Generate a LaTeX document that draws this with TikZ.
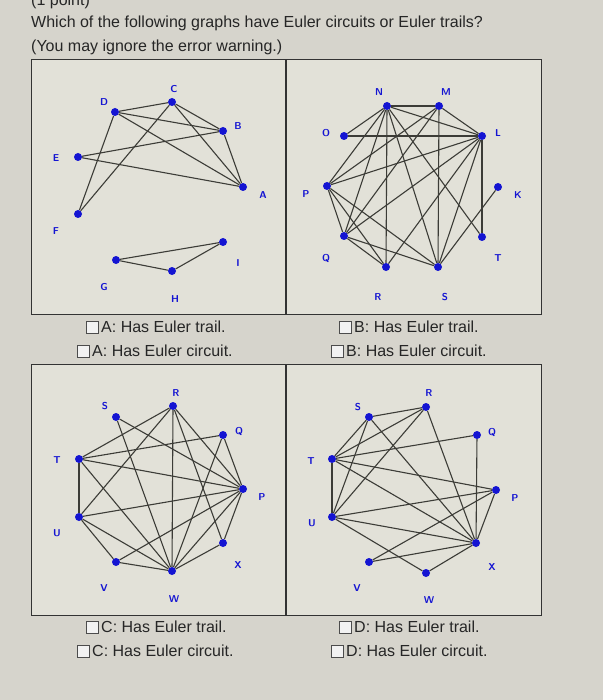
\documentclass[tikz,border=0pt]{standalone}
\usepackage{fontspec}
\setmainfont{Liberation Sans}
\definecolor{bg}{RGB}{214,212,204}
\definecolor{pan}{RGB}{226,225,216}
\definecolor{nb}{RGB}{20,20,210}
\definecolor{ed}{RGB}{60,60,55}
\begin{document}
\begin{tikzpicture}[x=1pt,y=-1pt,
  dot/.style={circle,fill=nb,inner sep=0pt,minimum size=8pt},
  lab/.style={text=nb,font=\sffamily\bfseries\fontsize{10}{10}\selectfont,inner sep=0pt},
  edge/.style={draw=ed,line width=1.1pt},
  frame/.style={draw=black!80,line width=1pt,fill=pan},
  txt/.style={font=\fontsize{16}{18}\selectfont,anchor=west,inner sep=0pt,text=black!85},
  cb/.style={draw=black!70,fill=white!90!gray,minimum size=12pt,inner sep=0pt}]
\useasboundingbox (0,0) rectangle (603,700);
\fill[bg] (0,0) rectangle (603,700);
\begin{scope}
\clip (0,0) rectangle (603,700);
\node[txt] (t0) at (31,1) {(1 point)};
\end{scope}
\node[txt] (t1) at (31,23) {Which of the following graphs have Euler circuits or Euler trails?};
\node[txt] (t2) at (31,47) {(You may ignore the error warning.)};
\draw[frame] (31,60) rectangle (541,314);
\draw[frame] (31,364) rectangle (541,615);
\draw[black!80,line width=1.2pt] (286,60) -- (286,314);
\draw[black!80,line width=1.2pt] (286,364) -- (286,615);
% checkboxes
\node[cb] (b1) at (92,327) {}; \node[txt] (l1) at (101,327) {A: Has Euler trail.};
\node[cb] (b2) at (83,351) {}; \node[txt] (l2) at (92,351) {A: Has Euler circuit.};
\node[cb] (b3) at (345,327) {}; \node[txt] (l3) at (354,327) {B: Has Euler trail.};
\node[cb] (b4) at (337,351) {}; \node[txt] (l4) at (346,351) {B: Has Euler circuit.};
\node[cb] (b5) at (92,627) {}; \node[txt] (l5) at (101,627) {C: Has Euler trail.};
\node[cb] (b6) at (83,651) {}; \node[txt] (l6) at (92,651) {C: Has Euler circuit.};
\node[cb] (b7) at (345,627) {}; \node[txt] (l7) at (354,627) {D: Has Euler trail.};
\node[cb] (b8) at (337,651) {}; \node[txt] (l8) at (346,651) {D: Has Euler circuit.};
% Graph A
\foreach \n/\x/\y/\lx/\ly in {C/172/102/174/89, D/115/112/104/102, B/223/131/238/126, E/78/157/56/158, A/243/187/263/195, F/78/214/56/231, I/223/242/238/263, G/116/260/104/287, H/172/271/175/299}{
  \node[dot] (a\n) at (\x,\y) {}; \node[lab] (al\n) at (\lx,\ly) {\n};}
\foreach \u/\v in {D/C,D/B,D/A,D/F,C/B,C/A,C/F,B/E,B/A,E/A,G/I,G/H,H/I}
  \draw[edge] (a\u) -- (a\v);
% Graph B
\foreach \n/\x/\y/\lx/\ly in {N/387/106/379/92, M/439/106/446/92, O/344/136/326/133, L/482/136/498/133, P/327/186/306/194, K/498/187/518/195, Q/344/236/326/258, T/482/237/498/258, R/386/267/378/297, S/438/267/445/297}{
  \node[dot] (b\n) at (\x,\y) {}; \node[lab] (bl\n) at (\lx,\ly) {\n};}
\foreach \u/\v in {N/M,N/O,N/L,N/P,N/Q,N/R,N/S,N/T,M/L,M/S,M/P,M/Q,O/L,L/P,L/Q,L/R,L/S,L/T,P/Q,P/R,P/S,Q/R,Q/S,K/S}
  \draw[edge] (b\u) -- (b\v);
% Graph C
\foreach \n/\x/\y/\lx/\ly in {R/173/406/176/393, S/116/417/105/406, Q/223/435/239/431, T/79/459/57/460, P/243/489/262/497, U/79/517/57/533, X/223/543/238/565, V/116/562/104/588, W/172/571/174/599}{
  \node[dot] (c\n) at (\x,\y) {}; \node[lab] (cl\n) at (\lx,\ly) {\n};}
\foreach \u/\v in {R/T,R/U,R/W,R/P,R/X,S/P,S/W,T/Q,T/P,T/U,T/W,U/P,U/V,U/W,Q/P,Q/W,P/V,P/W,P/X,X/W,V/W}
  \draw[edge] (c\u) -- (c\v);
% Graph D
\foreach \n/\x/\y/\lx/\ly in {R/426/407/429/393, S/369/417/358/407, Q/477/435/492/432, T/332/459/311/461, P/496/490/515/498, U/332/517/312/523, X/476/543/492/567, V/369/562/357/588, W/426/573/429/600}{
  \node[dot] (d\n) at (\x,\y) {}; \node[lab] (dl\n) at (\lx,\ly) {\n};}
\foreach \u/\v in {S/R,S/T,S/U,S/X,R/T,R/U,R/X,T/Q,T/P,T/X,T/U,U/P,U/X,U/W,Q/X,P/X,P/V,V/X,W/X}
  \draw[edge] (d\u) -- (d\v);
\end{tikzpicture}
\end{document}
